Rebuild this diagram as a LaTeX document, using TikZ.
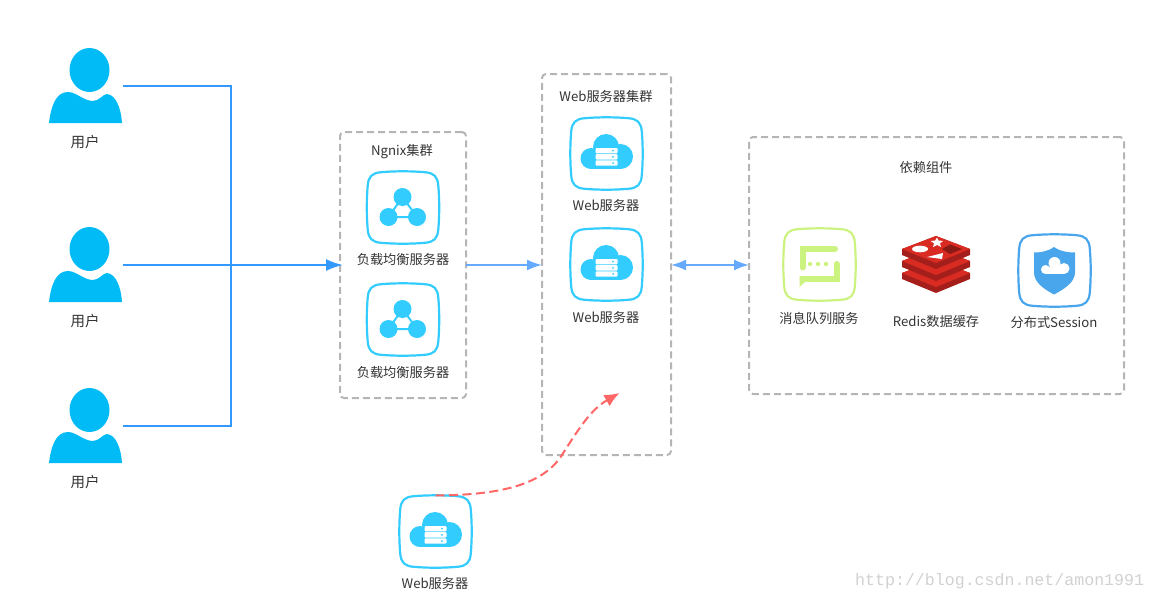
\documentclass[tikz,border=0pt]{standalone}
\usepackage{fontspec}
\setmainfont{Noto Sans CJK SC}
\newfontfamily\wmfont{Liberation Mono}
\usetikzlibrary{arrows.meta}
\definecolor{usercol}{HTML}{00BBF5}
\definecolor{iconcol}{HTML}{33CCFF}
\definecolor{wirecol}{HTML}{3399FF}
\definecolor{linkcol}{HTML}{66AAFF}
\definecolor{boxcol}{HTML}{B5B5B5}
\definecolor{redcol}{HTML}{FF6666}
\definecolor{msgcol}{HTML}{CCF27F}
\definecolor{shieldcol}{HTML}{4AA6EC}
\definecolor{txtcol}{HTML}{333333}
\definecolor{redisA}{HTML}{D92B21}
\definecolor{redisB}{HTML}{A41F1B}
\definecolor{redisC}{HTML}{8A1A14}
\tikzset{
  x=1pt,y=-1pt,
  lbl/.style={inner sep=0pt,yshift=-1pt,text=txtcol,font=\fontsize{13.2}{15}\selectfont},
  ulbl/.style={lbl,font=\fontsize{14.5}{16}\selectfont},
  groupbox/.style={draw=boxcol,line width=2pt,dash pattern=on 7pt off 4pt,rounded corners=4pt,inner sep=0pt,outer sep=0pt,anchor=north west},
  iconbox/.style={minimum size=72pt,inner sep=0pt,outer sep=0pt},
  userbox/.style={minimum width=74pt,minimum height=76pt,inner sep=0pt,outer sep=0pt},
  wire/.style={draw=wirecol,line width=2pt},
  wirearrow/.style={wire,-{Latex[length=17pt,width=12pt]}},
  link/.style={draw=linkcol,line width=2pt,-{Latex[length=15pt,width=11pt]}},
  biglink/.style={draw=linkcol,line width=2pt,{Latex[length=15pt,width=11pt]}-{Latex[length=15pt,width=11pt]}},
  migrate/.style={draw=redcol,line width=2pt,dash pattern=on 9pt off 4.5pt,-{Latex[length=15pt,width=13pt]}},
  pics/sq/.style={code={
    \draw[line width=2.2pt,color=#1]
      (-22,-35.3) .. controls (-8,-36.5) and (8,-36.5) .. (22,-35.3)
      .. controls (31,-34.5) and (34.5,-31) .. (35.3,-22)
      .. controls (36.5,-8) and (36.5,8) .. (35.3,22)
      .. controls (34.5,31) and (31,34.5) .. (22,35.3)
      .. controls (8,36.5) and (-8,36.5) .. (-22,35.3)
      .. controls (-31,34.5) and (-34.5,31) .. (-35.3,22)
      .. controls (-36.5,8) and (-36.5,-8) .. (-35.3,-22)
      .. controls (-34.5,-31) and (-31,-34.5) .. (-22,-35.3) -- cycle;
  }},
  pics/personicon/.style={code={
    \fill[usercol] (3.5,-16) ellipse [x radius=20,y radius=22];
    \fill[usercol] (-37,37) .. controls (-35,20) and (-30,6) .. (-18,6)
      .. controls (-10,6) and (-2,15) .. (7,15)
      .. controls (13,15) and (17,8) .. (21,8)
      .. controls (30,9) and (35,22) .. (36,37) -- cycle;
  }},
  pics/neticon/.style={code={
    \pic {sq=iconcol};
    \draw[iconcol,line width=2pt] (-0.5,-10.5) -- (-14.5,9.5) -- (14,9.5) -- cycle;
    \fill[iconcol] (-0.5,-10.5) circle [radius=9] (-14.5,9.5) circle [radius=9] (14,9.5) circle [radius=9];
  }},
  pics/webicon/.style={code={
    \pic {sq=iconcol};
    \fill[iconcol] (-0.5,-6.5) circle [radius=13];
    \fill[iconcol] (-15.5,5) circle [radius=10.5];
    \fill[iconcol] (14,3) circle [radius=12.5];
    \fill[iconcol] (-15,-4) rectangle (14,15.5);
    \foreach \yy in {-5.5,0.7,6.9}{
      \fill[white,rounded corners=1pt] (-11,\yy) rectangle (11,\yy+5.3);
      \fill[iconcol] (6.5,\yy+2.6) circle [radius=1];
    }
  }},
  pics/msgicon/.style={code={
    \pic {sq=msgcol};
    \draw[msgcol,line width=6pt,line cap=round,line join=miter]
      (15.5,-15.5) -- (-17,-15.5) -- (-17,3);
    \draw[msgcol,line width=6pt,line cap=round,line join=miter]
      (17,-0.5) -- (17,14.5) -- (-17,14.5);
    \fill[msgcol] (-20,11.5) -- (-14.5,11.5) -- (-14.5,17.5) -- (-20,22.5) -- cycle;
    \fill[msgcol] (-9.5,-0.5) circle [radius=2.2] (-1.5,-0.5) circle [radius=2.2] (6.5,-0.5) circle [radius=2.2];
  }},
  pics/shieldicon/.style={code={
    \pic {sq=shieldcol};
    \fill[shieldcol] (-0.5,-23.5) .. controls (-7,-19) and (-14,-18) .. (-20.5,-18)
      -- (-20.5,2) .. controls (-20.5,12) and (-10,19) .. (-0.5,24)
      .. controls (9,19) and (20.5,12) .. (20.5,2)
      -- (20.5,-18) .. controls (13,-18) and (6,-19) .. (-0.5,-23.5) -- cycle;
    \fill[white] (0,-7.5) circle [radius=6] (-9,-1) circle [radius=4.5] (9.5,-2) circle [radius=5.5];
    \fill[white] (-9,-4) rectangle (9.5,3.5);
  }},
  pics/redislayer/.style={code={
    \fill[redisB] (-34,13) -- (0,0) -- (34,13) -- (34,19) -- (0,33) -- (-34,19) -- cycle;
    \fill[redisA] (-34,13) -- (0,0) -- (34,13) -- (0,27) -- cycle;
  }},
  pics/redisicon/.style={code={
    \pic at (0,24) {redislayer};
    \pic at (0,12) {redislayer};
    \pic at (0,0) {redislayer};
    \fill[white] (-16,13) ellipse [x radius=8,y radius=3.3];
    \fill[white] (1,1.5) -- (2.6,4.5) -- (7,5) -- (4,7.3) -- (5,11) -- (1,9) -- (-3,11) -- (-2,7.3) -- (-5.5,5) -- (-0.8,4.5) -- cycle;
    \fill[white] (-9,21) -- (7,17) -- (6,23) -- cycle;
    \fill[redisC] (6,13) -- (14,8.5) -- (26,13) -- (14,18) -- cycle;
  }},
}
\begin{document}
\begin{tikzpicture}
\useasboundingbox (0,0) rectangle (1156,600);
% group boxes
\node[groupbox,minimum width=126pt,minimum height=266pt] (ngnix) at (340,132) {};
\node[groupbox,minimum width=129pt,minimum height=381pt] (webc) at (542,74) {};
\node[groupbox,minimum width=375pt,minimum height=257pt] (deps) at (749,137) {};
% users
\node[userbox] (user1) at (86,86) {};
\node[userbox] (user2) at (86,265) {};
\node[userbox] (user3) at (86,426) {};
\pic at (user1) {personicon};
\pic at (user2) {personicon};
\pic at (user3) {personicon};
\node[ulbl] (ul1) at (85,141) {用户};
\node[ulbl] (ul2) at (85,320) {用户};
\node[ulbl] (ul3) at (85,481) {用户};
% load balancers
\node[iconbox] (lb1) at (403,207.5) {};
\node[iconbox] (lb2) at (403,319.5) {};
\pic at (lb1) {neticon};
\pic at (lb2) {neticon};
\node[lbl] (ngt) at (402,151) {Ngnix集群};
\node[lbl] (lbl1) at (403,258) {负载均衡服务器};
\node[lbl] (lbl2) at (403,371) {负载均衡服务器};
% web servers
\node[iconbox] (w1) at (606.5,153.5) {};
\node[iconbox] (w2) at (606.5,264.5) {};
\node[iconbox] (w3) at (435.5,531.5) {};
\pic at (w1) {webicon};
\pic at (w2) {webicon};
\pic at (w3) {webicon};
\node[lbl] (wt) at (606,95) {Web服务器集群};
\node[lbl] (wl1) at (606,204) {Web服务器};
\node[lbl] (wl2) at (606,316) {Web服务器};
\node[lbl] (wl3) at (435,582) {Web服务器};
% dependencies
\node[iconbox] (mq) at (819.5,264.5) {};
\node[iconbox] (redis) at (936,264.5) {};
\node[iconbox] (sess) at (1054.5,270.5) {};
\pic at (mq) {msgicon};
\pic at (936,236) {redisicon};
\pic at (sess) {shieldicon};
\node[lbl] (dt) at (926,166) {依赖组件};
\node[lbl] (dl1) at (819,317) {消息队列服务};
\node[lbl] (dl2) at (936,320) {Redis数据缓存};
\node[lbl] (dl3) at (1054,321) {分布式Session};
% connectors
\coordinate (join) at (231,265);
\coordinate (newtip) at (619.5,393);
\draw[wire] (user1.east) -| (join);
\draw[wire] (user3.east) -| (join);
\draw[wirearrow,shorten >=-3pt] (user2.east) -- (ngnix.west);
\draw[link] (ngnix.east) -- (webc.west |- ngnix.east);
\draw[biglink] (webc.east |- ngnix.east) -- (deps.west |- ngnix.east);
\draw[migrate] (w3.north) .. controls (500,495) and (540,485) .. (560,458)
  .. controls (578,430) and (590,410) .. (newtip);
% watermark
\node[inner sep=0pt,anchor=west,text=black!18,font=\wmfont\fontsize{16.6}{18}\selectfont] (wm) at (855,581) {http://blog.csdn.net/amon1991};
\end{tikzpicture}
\end{document}
